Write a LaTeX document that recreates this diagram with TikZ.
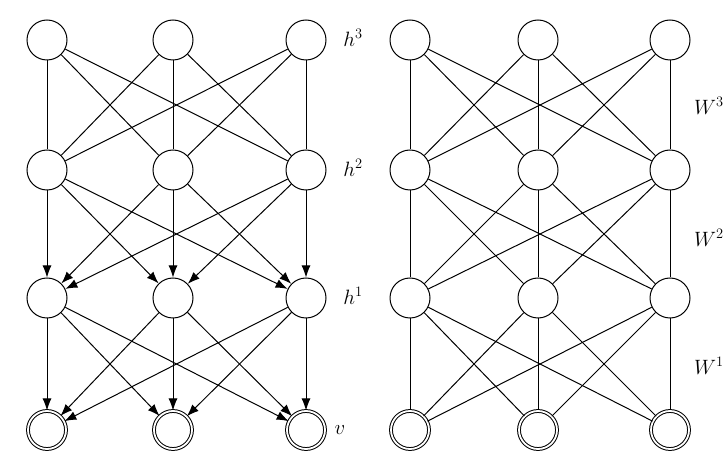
\documentclass[tikz,border=0pt]{standalone}
\usetikzlibrary{arrows.meta}
\begin{document}
\begin{tikzpicture}[x=1pt,y=-1pt,
  unit/.style={circle,draw,line width=1pt,minimum size=40pt,inner sep=0pt},
  vis/.style={unit,double,double distance=1.8pt,minimum size=38pt},
  lnk/.style={line width=1pt},
  arr/.style={lnk,-{Latex[length=12pt,width=9pt]}},
  lab/.style={font=\fontsize{21}{24}\selectfont}]
\useasboundingbox (0,0) rectangle (726,462);
\foreach \c/\x in {1/47,2/173,3/306}{
  \node[unit] (a3\c) at (\x,40) {};
  \node[unit] (a2\c) at (\x,170) {};
  \node[unit] (a1\c) at (\x,298) {};
  \node[vis] (a0\c) at (\x,430) {};
}
\foreach \c/\x in {1/410,2/538,3/670}{
  \node[unit] (b3\c) at (\x,40) {};
  \node[unit] (b2\c) at (\x,170) {};
  \node[unit] (b1\c) at (\x,298) {};
  \node[vis] (b0\c) at (\x,430) {};
}
\foreach \i in {1,2,3}{\foreach \j in {1,2,3}{
  \draw[lnk] (a3\i) -- (a2\j);
  \draw[arr] (a2\i) -- (a1\j);
  \draw[arr] (a1\i) -- (a0\j);
  \draw[lnk] (b3\i) -- (b2\j);
  \draw[lnk] (b2\i) -- (b1\j);
  \draw[lnk] (b1\i) -- (b0\j);
}}
\node[lab] (l3) at (353,38) {$h^3$};
\node[lab] (l2) at (353,168) {$h^2$};
\node[lab] (l1) at (353,296) {$h^1$};
\node[lab] (l0) at (340,430) {$v$};
\node[lab] (w3) at (709,106) {$W^3$};
\node[lab] (w2) at (709,238) {$W^2$};
\node[lab] (w1) at (709,366) {$W^1$};
\end{tikzpicture}
\end{document}
